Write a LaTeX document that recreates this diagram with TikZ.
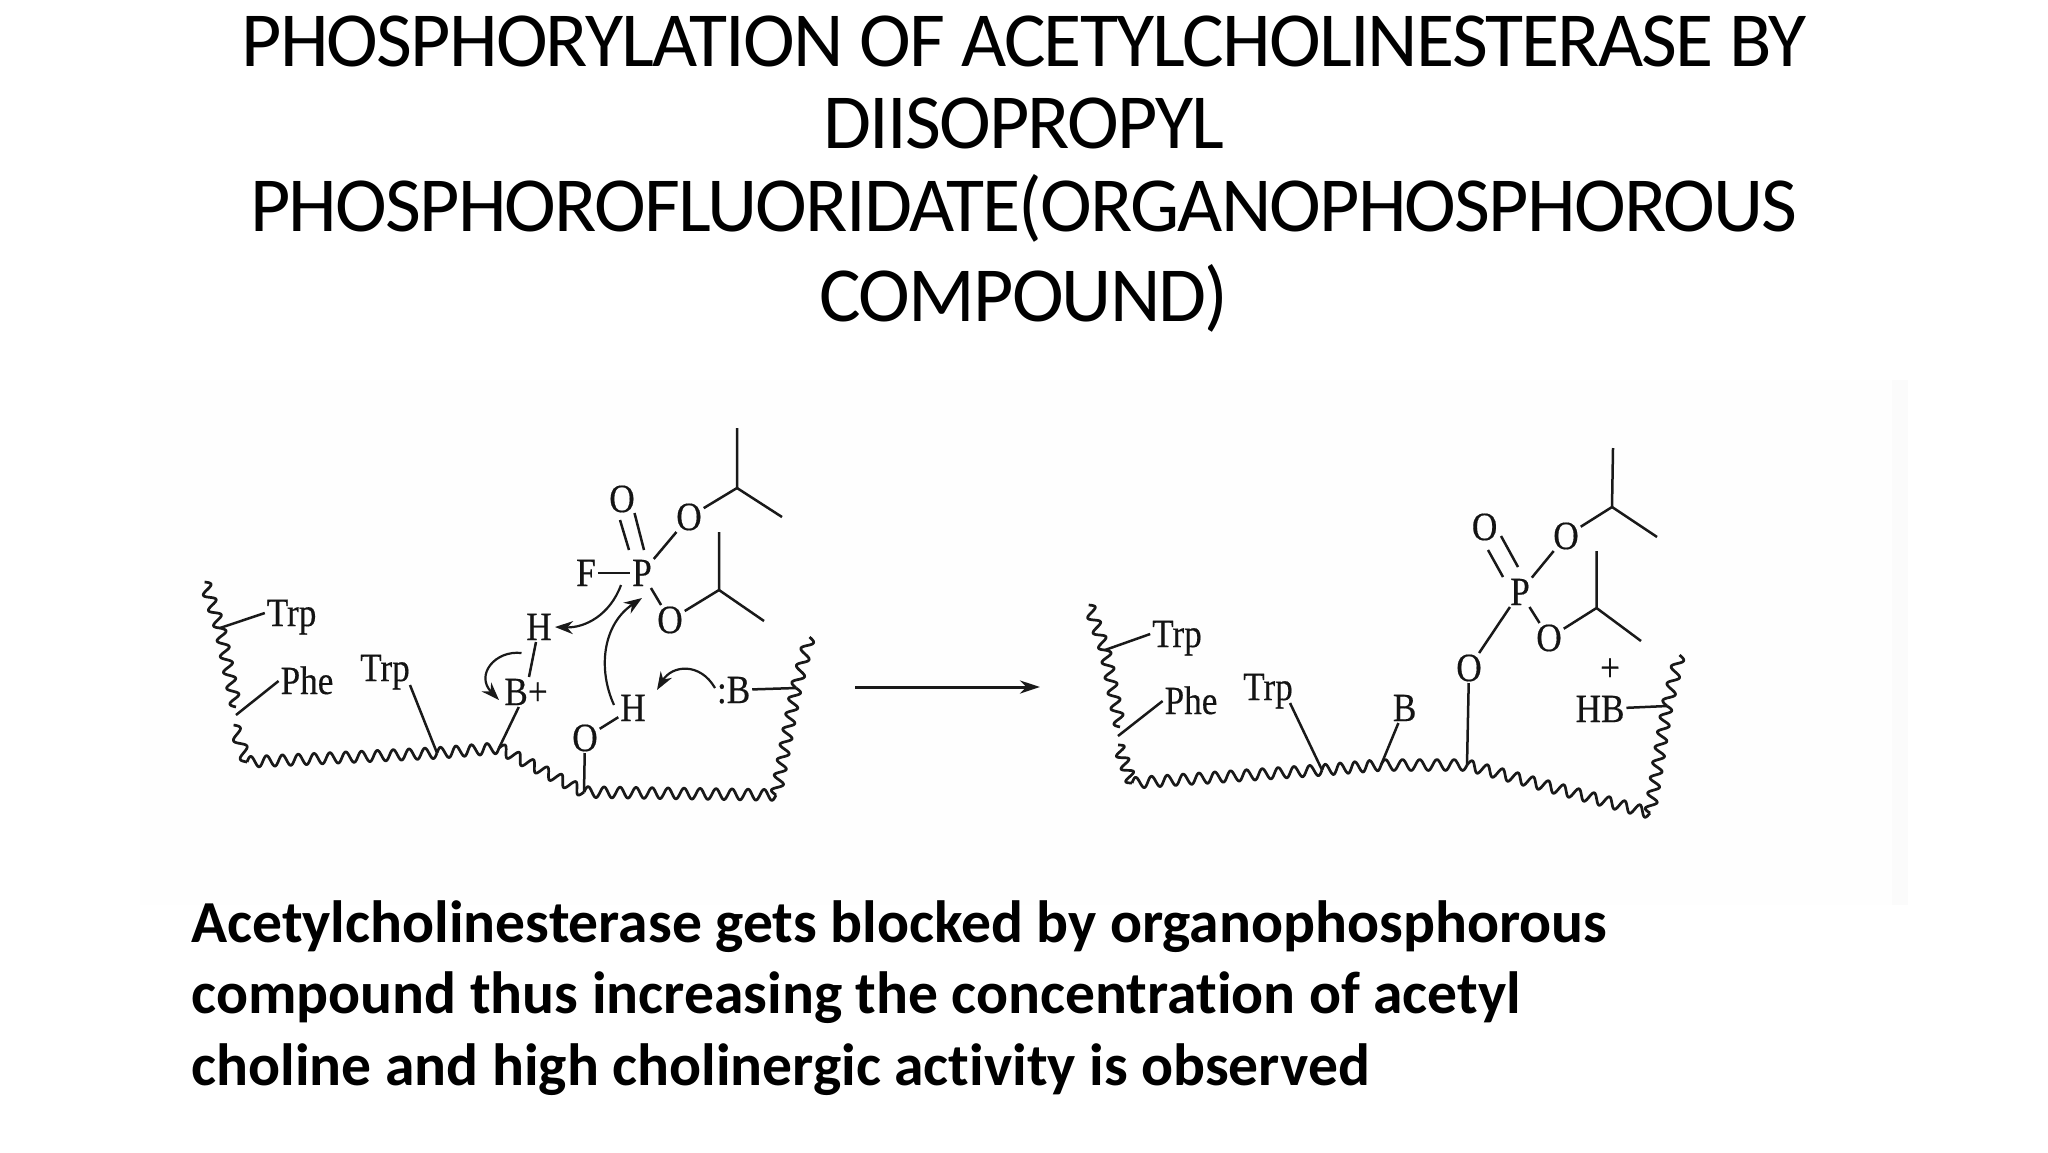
\documentclass[tikz,border=0pt]{standalone}
\usepackage{fontspec}
\usetikzlibrary{arrows.meta,calc}
\setmainfont{Carlito}[Ligatures=NoCommon]
\newfontfamily\titlefont[LetterSpace=-2.3]{Carlito}
\newfontfamily\chemfont[FakeStretch=0.88,FakeBold=0.4]{Liberation Serif}
\tikzset{
  titletext/.style={anchor=base,inner sep=0,font=\titlefont\fontsize{39}{39}\selectfont,text=black},
  bodytext/.style={anchor=base west,inner sep=0,font=\fontsize{29.8}{29.8}\selectfont\bfseries,text=black},
  atom/.style={inner sep=.8pt,font=\chemfont\fontsize{20}{20}\selectfont,text height=13pt,text depth=0pt,text=black!92},
  bond/.style={line width=1.25pt,draw=black!90},
  wavestroke/.style={line width=1.35pt,draw=black!90,line join=round},
  curly/.style={line width=1.1pt,draw=black!90,-{Stealth[length=9pt,width=6.5pt]}},
  reaction/.style={line width=1.5pt,draw=black!90,-{Stealth[length=10pt,width=6.5pt]}}
}
\newcommand{\waveleg}[2]{%
  \draw[wavestroke] let \p1=(#1),\p2=(#2),
    \n1={veclen(\x2-\x1,\y2-\y1)},\n2={max(1,round(\n1/8))} in
    plot[variable=\t,domain=0:1,samples=281]
    ({\x1+(\x2-\x1)*\t-(\y2-\y1)/\n1*2.7pt*sin(360*\n2*\t)},
     {\y1+(\y2-\y1)*\t+(\x2-\x1)/\n1*2.7pt*sin(360*\n2*\t)});}
\begin{document}
\begin{tikzpicture}[x=0.5pt,y=-0.5pt]
\useasboundingbox (0,0) rectangle (2048,1152);
\fill[white] (0,0) rectangle (2048,1152);
\fill[black!.4] (140,380) rectangle (1908,905);
\fill[black!1.5] (1892,380) rectangle (1908,905);
% title
\node[titletext] (t1) at (1024,66) {PHOSPHORYLATION OF ACETYLCHOLINESTERASE BY};
\node[titletext] (t2) at (1024,148) {DIISOPROPYL};
\node[titletext] (t3) at (1024,231) {PHOSPHOROFLUORIDATE(ORGANOPHOSPHOROUS};
\node[titletext] (t4) at (1024,321) {COMPOUND)};
% body
\node[bodytext] (b1) at (191,942) {Acetylcholinesterase gets blocked by organophosphorous};
\node[bodytext] (b2) at (191,1013) {compound thus increasing the concentration of acetyl};
\node[bodytext] (b3) at (191,1085) {choline and high cholinergic activity is observed};
% ---------- left enzyme
\coordinate (La) at (204.6,582);
\coordinate (Lb) at (220,628);
\coordinate (Lc) at (236,707);
\coordinate (Ld) at (233.6,725);
\coordinate (Le) at (247,762);
\coordinate (Lf) at (437,753);
\coordinate (Lg) at (499,748);
\coordinate (Lh) at (584,792);
\coordinate (Li) at (776,795);
\coordinate (Lj) at (796,688);
\coordinate (Lk) at (809.5,637);
\coordinate (Lm) at (236,715);
\waveleg{La}{Lb}\waveleg{Lb}{Lc}
\waveleg{Ld}{Le}\waveleg{Le}{Lf}\waveleg{Lf}{Lg}\waveleg{Lg}{Lh}
\waveleg{Lh}{Li}\waveleg{Li}{Lj}\waveleg{Lj}{Lk}
\node[atom] (LTrpA) at (291.6,613) {Trp};
\node[atom] (LPhe) at (307,681) {Phe};
\node[atom] (LTrpB) at (385,668) {Trp};
\node[atom] (LBp) at (526,692) {B+};
\node[atom] (LH) at (539,627) {H};
\node[atom] (LO) at (585,738) {O};
\node[atom] (LHb) at (633,708) {H};
\node[atom] (LB) at (733.6,690) {:B};
\node[atom] (LP) at (642,573) {P};
\node[atom] (LF) at (586,573) {F};
\node[atom] (LOd) at (622,499) {O};
\node[atom] (LOu) at (689,517) {O};
\node[atom] (LOl) at (670,620) {O};
\coordinate (LCu) at (737,488);
\coordinate (LCua) at (737,428);
\coordinate (LCub) at (782,517);
\coordinate (LCl) at (719,590);
\coordinate (LCla) at (719,532);
\coordinate (LClb) at (764,621);
\coordinate (LTe) at (410,685);
\draw[bond] (Lb) -- (LTrpA.west);
\draw[bond] (Lm) -- (LPhe.west);
\draw[bond] (LTe) -- (Lf);
\draw[bond] (LBp) -- (Lg);
\draw[bond] (LH) -- (LBp);
\draw[bond] (LO) -- (Lh);
\draw[bond] (LO) -- (LHb);
\draw[bond] (LB) -- (Lj);
\draw[bond] (LF) -- (LP);
\coordinate (Ldb1) at (620,520);
\coordinate (Ldb2) at (629,550);
\coordinate (Ldb3) at (634.5,513);
\coordinate (Ldb4) at (644,550);
\draw[bond] (Ldb1) -- (Ldb2);
\draw[bond] (Ldb3) -- (Ldb4);
\draw[bond] (LP) -- (LOu);
\draw[bond] (LOu) -- (LCu) -- (LCua);
\draw[bond] (LCu) -- (LCub);
\draw[bond] (LP) -- (LOl);
\draw[bond] (LOl) -- (LCl) -- (LCla);
\draw[bond] (LCl) -- (LClb);
\coordinate (Lar1) at (621,585);
\coordinate (Lar2) at (555,627);
\draw[curly] (Lar1) .. controls (610,615) and (585,628) .. (Lar2);
\coordinate (Lar3) at (521.5,653);
\coordinate (Lar4) at (499,700);
\draw[curly] (Lar3) .. controls (495,650) and (475,675) .. (Lar4);
\coordinate (Lar5) at (614,705);
\coordinate (Lar6) at (642,598);
\draw[curly] (Lar5) .. controls (598,670) and (602,625) .. (Lar6);
\coordinate (Lar7) at (715,688);
\coordinate (Lar8) at (657,690);
\draw[curly] (Lar7) .. controls (700,662) and (672,665) .. (Lar8);
% reaction arrow
\coordinate (Ra) at (855,687);
\coordinate (Rb) at (1040,687);
\draw[reaction] (Ra) -- (Rb);
% ---------- right enzyme
\coordinate (Ra1) at (1088.7,605);
\coordinate (Rb1) at (1105,650);
\coordinate (Rc1) at (1120,727);
\coordinate (Rd1) at (1118,745);
\coordinate (Re1) at (1132,783);
\coordinate (Rf1) at (1322,770);
\coordinate (Rg1) at (1381,765);
\coordinate (Rh1) at (1467,765);
\coordinate (Ri1) at (1650,813);
\coordinate (Rj1) at (1667,706);
\coordinate (Rk1) at (1679.5,655);
\coordinate (Rm1) at (1118,736);
\waveleg{Ra1}{Rb1}\waveleg{Rb1}{Rc1}
\waveleg{Rd1}{Re1}\waveleg{Re1}{Rf1}\waveleg{Rf1}{Rg1}\waveleg{Rg1}{Rh1}
\waveleg{Rh1}{Ri1}\waveleg{Ri1}{Rj1}\waveleg{Rj1}{Rk1}
\node[atom] (RTrpA) at (1177,634) {Trp};
\node[atom] (RPhe) at (1191,701) {Phe};
\node[atom] (RTrpB) at (1268,687) {Trp};
\node[atom] (RB) at (1404.6,708) {B};
\node[atom] (RO) at (1469,668) {O};
\node[atom] (RP) at (1520,592) {P};
\node[atom] (ROd) at (1484.6,527) {O};
\node[atom] (ROu) at (1566,536) {O};
\node[atom] (ROl) at (1549,638) {O};
\node[atom] (RHB) at (1600,709) {HB};
\node[atom,text height=8pt] (Rplus) at (1610,673) {+};
\coordinate (RTe) at (1290,703);
\coordinate (RCu) at (1612,507);
\coordinate (RCua) at (1613,448);
\coordinate (RCub) at (1657,537);
\coordinate (RCl) at (1596.5,608);
\coordinate (RCla) at (1596.5,551);
\coordinate (RClb) at (1641,641);
\draw[bond] (Rb1) -- (RTrpA.west);
\draw[bond] (Rm1) -- (RPhe.west);
\draw[bond] (RTe) -- (Rf1);
\draw[bond] (RB) -- (Rg1);
\draw[bond] (RO) -- (Rh1);
\draw[bond] (RP) -- (RO);
\coordinate (Rdb1) at (1488,550);
\coordinate (Rdb2) at (1503,577);
\coordinate (Rdb3) at (1501,536);
\coordinate (Rdb4) at (1518,567);
\draw[bond] (Rdb1) -- (Rdb2);
\draw[bond] (Rdb3) -- (Rdb4);
\draw[bond] (RP) -- (ROu);
\draw[bond] (ROu) -- (RCu) -- (RCua);
\draw[bond] (RCu) -- (RCub);
\draw[bond] (RP) -- (ROl);
\draw[bond] (ROl) -- (RCl) -- (RCla);
\draw[bond] (RCl) -- (RClb);
\draw[bond] (RHB) -- (Rj1);
\end{tikzpicture}
\end{document}
